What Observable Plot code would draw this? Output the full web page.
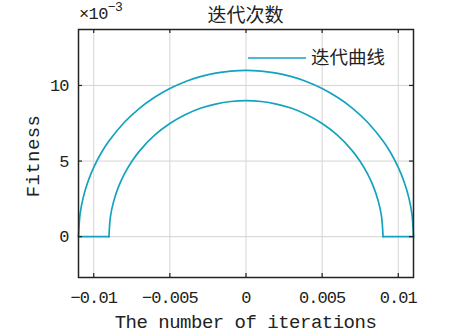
<!DOCTYPE html>
<html>
<head>
<meta charset="utf-8">
<script src="https://cdn.jsdelivr.net/npm/d3@7"></script>
<script src="https://cdn.jsdelivr.net/npm/@observablehq/plot@0.6"></script>
<style>
  html, body { margin: 0; padding: 0; background: #fff; }
  #chart svg { display: block; }
  #chart g[aria-label="x-axis tick label"] text,
  #chart g[aria-label="y-axis tick label"] text { letter-spacing: -0.9px; }
</style>
</head>
<body>
<div id="chart"></div>
<script>
// ---- data ----
const outerX = [-0.011,-0.0109,-0.0107,-0.0104,-0.01,-0.0095,-0.009,-0.008,-0.007,-0.006,-0.005,-0.004,-0.003,-0.002,-0.001,0,0.001,0.002,0.003,0.004,0.005,0.006,0.007,0.008,0.009,0.0095,0.01,0.0104,0.0107,0.0109,0.011];
const outerY = [0,1.48,2.55,3.58,4.58,5.55,6.32,7.55,8.49,9.22,9.80,10.25,10.58,10.82,10.95,11,10.95,10.82,10.58,10.25,9.80,9.22,8.49,7.55,6.32,5.55,4.58,3.58,2.55,1.48,0];
const innerX = [-0.009,-0.0089,-0.0087,-0.0084,-0.008,-0.0075,-0.007,-0.006,-0.005,-0.004,-0.003,-0.002,-0.001,0,0.001,0.002,0.003,0.004,0.005,0.006,0.007,0.0075,0.008,0.0084,0.0087,0.0089,0.009];
const innerY = [0,1.34,2.30,3.23,4.12,4.97,5.66,6.71,7.48,8.06,8.49,8.77,8.94,9,8.94,8.77,8.49,8.06,7.48,6.71,5.66,4.97,4.12,3.23,2.30,1.34,0];
const baseLeftX = [-0.011,-0.009];
const baseRightX = [0.009,0.011];
const baseY = [0,0];

const xTicks = [-0.01,-0.005,0,0.005,0.01];
const xTickLabels = ["\u22120.01","\u22120.005","0","0.005","0.01"];
const yTicks = [0,5,10];
const yTickLabels = ["0","5","10"];

const titleText = "迭代次数";
const xLabel = "The number of iterations";
const yLabel = "Fitness";
const legendLabel = "迭代曲线";
const lineColor = "#14a3bf";

// ---- build table ----
const rows = [];
outerX.forEach((x,i)=>rows.push({x, y: outerY[i], s:"outer"}));
innerX.forEach((x,i)=>rows.push({x, y: innerY[i], s:"inner"}));
baseLeftX.forEach((x,i)=>rows.push({x, y: baseY[i], s:"bl"}));
baseRightX.forEach((x,i)=>rows.push({x, y: baseY[i], s:"br"}));

const W = 474, H = 334;
const mL = 78, mR = 61, mT = 29, mB = 57;
const fw = W - mL - mR, fh = H - mT - mB;
const mono = "'Liberation Mono', 'DejaVu Sans Mono', monospace";
const cjk = "'Noto Sans CJK SC', sans-serif";

const chart = Plot.plot({
  width: W, height: H,
  marginLeft: mL, marginRight: mR, marginTop: mT, marginBottom: mB,
  style: { background: "#fff", fontFamily: mono, fontSize: "17px", color: "#222" },
  x: { domain: [-0.011, 0.011] },
  y: { domain: [-2.7, 13.7] },
  marks: [
    Plot.gridX(xTicks, { stroke: "#d4d4d4", strokeOpacity: 1, strokeWidth: 1 }),
    Plot.gridY(yTicks, { stroke: "#d4d4d4", strokeOpacity: 1, strokeWidth: 1 }),
    Plot.line(rows, { x: "x", y: "y", z: "s", stroke: lineColor, strokeWidth: 1.7, curve: "catmull-rom" }),
    Plot.ruleX(xTicks, { insetTop: fh - 4, stroke: "#222", strokeWidth: 1.2 }),
    Plot.ruleX(xTicks, { insetBottom: fh - 4, stroke: "#222", strokeWidth: 1.2 }),
    Plot.ruleY(yTicks, { insetLeft: fw - 4, stroke: "#222", strokeWidth: 1.2 }),
    Plot.ruleY(yTicks, { insetRight: fw - 4, stroke: "#222", strokeWidth: 1.2 }),
    Plot.frame({ stroke: "#222", strokeWidth: 1.5 }),
    Plot.axisX(xTicks, { tickSize: 0, tickPadding: 13, tickFormat: (d) => xTickLabels[xTicks.indexOf(d)], fontSize: 17, fill: "#222", label: null }),
    Plot.axisY(yTicks, { tickSize: 0, tickPadding: 10, tickFormat: (d) => yTickLabels[yTicks.indexOf(d)], fontSize: 17, fill: "#222", label: null })
  ]
});

const svg = d3.select(chart);
// title
svg.append("text").attr("x", mL + fw / 2).attr("y", 22).attr("text-anchor", "middle")
  .style("font-family", cjk).style("font-size", "19px").attr("fill", "#222").text(titleText);
// exponent
const ex = svg.append("text").attr("x", mL + 1).attr("y", 19).attr("text-anchor", "start")
  .style("font-family", mono).style("font-size", "17px").style("letter-spacing", "-0.6px").attr("fill", "#222");
ex.append("tspan").text("\u00d710");
ex.append("tspan").attr("dy", -8).style("font-size", "13px").text("\u22123");
// x label
svg.append("text").attr("x", mL + fw / 2).attr("y", 328).attr("text-anchor", "middle")
  .style("font-family", mono).style("font-size", "19px").style("letter-spacing", "-0.5px").attr("fill", "#222").text(xLabel);
// y label
svg.append("text").attr("transform", `translate(39,${mT + fh / 2 + 3}) rotate(-90)`).attr("text-anchor", "middle")
  .style("font-family", mono).style("font-size", "19px").style("letter-spacing", "0.4px").attr("fill", "#222").text(yLabel);
// legend
svg.append("line").attr("x1", 248).attr("x2", 306).attr("y1", 58).attr("y2", 58)
  .attr("stroke", lineColor).attr("stroke-width", 1.7);
svg.append("text").attr("x", 311).attr("y", 58).attr("dy", "0.35em").attr("text-anchor", "start")
  .style("font-family", cjk).style("font-size", "18.5px").attr("fill", "#222").text(legendLabel);

document.getElementById("chart").appendChild(chart);
</script>
</body>
</html>
